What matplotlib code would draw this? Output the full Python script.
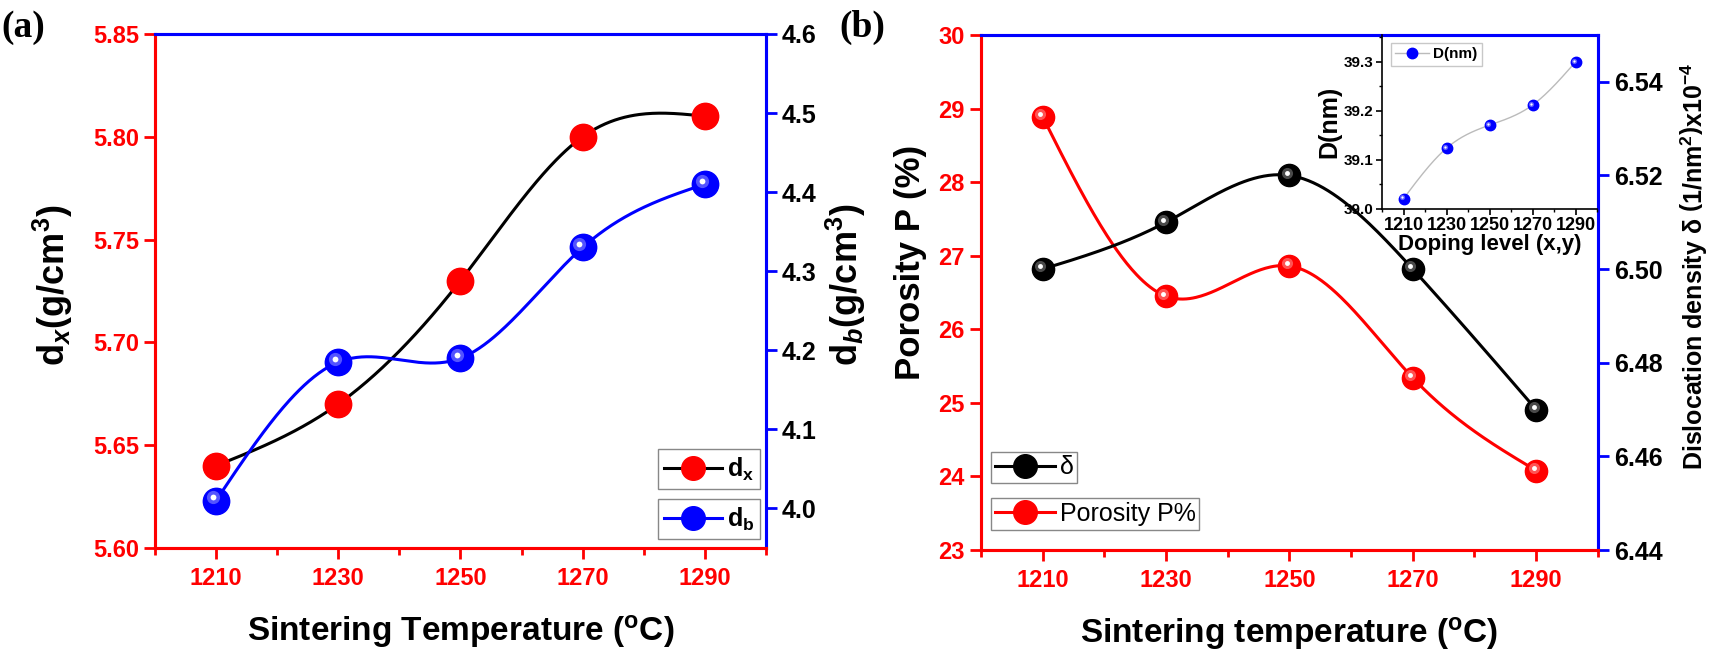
import numpy as np
import matplotlib
matplotlib.use("Agg")
import matplotlib.pyplot as plt
from matplotlib.transforms import offset_copy
from matplotlib.ticker import MultipleLocator

plt.rcParams["font.family"] = ["Liberation Sans", "DejaVu Sans"]
plt.rcParams["font.weight"] = "bold"
plt.rcParams["axes.labelweight"] = "bold"
plt.rcParams["mathtext.fontset"] = "custom"
plt.rcParams["mathtext.rm"] = "Liberation Sans:bold"
plt.rcParams["mathtext.bf"] = "Liberation Sans:bold"
plt.rcParams["mathtext.it"] = "Liberation Sans:italic:bold"
plt.rcParams["mathtext.default"] = "bf"

# data
temps = [1210, 1230, 1250, 1270, 1290]
dx = [5.64, 5.67, 5.73, 5.80, 5.81]
db = [4.01, 4.185, 4.19, 4.33, 4.41]
porosity = [28.89, 26.45, 26.86, 25.34, 24.08]
delta = [6.50, 6.51, 6.52, 6.50, 6.47]
grain = [39.021, 39.124, 39.171, 39.212, 39.30]

RED = "#ff0000"
BLUE = "#0000ff"
W, H = 1720, 655


def spline(x, y, n=300):
    # natural cubic spline through the points
    x = np.asarray(x, float)
    y = np.asarray(y, float)
    k = len(x)
    h = np.diff(x)
    A = np.zeros((k, k))
    r = np.zeros(k)
    A[0, 0] = 1
    A[-1, -1] = 1
    for i in range(1, k - 1):
        A[i, i - 1] = h[i - 1]
        A[i, i] = 2 * (h[i - 1] + h[i])
        A[i, i + 1] = h[i]
        r[i] = 6 * ((y[i + 1] - y[i]) / h[i] - (y[i] - y[i - 1]) / h[i - 1])
    M = np.linalg.solve(A, r)
    xs = np.linspace(x[0], x[-1], n)
    j = np.clip(np.searchsorted(x, xs) - 1, 0, k - 2)
    t0 = x[j + 1] - xs
    t1 = xs - x[j]
    hj = h[j]
    ys = (M[j] * t0**3 + M[j + 1] * t1**3) / (6 * hj) \
        + (y[j] / hj - M[j] * hj / 6) * t0 + (y[j + 1] / hj - M[j + 1] * hj / 6) * t1
    return xs, ys


def balls(ax, x, y, color, light, size, shade=True):
    ax.plot(x, y, "o", ms=size, mfc=color, mec=color, zorder=4)
    if shade:
        tr = offset_copy(ax.transData, fig=fig, x=-size * 0.12, y=size * 0.12, units="points")
        ax.plot(x, y, "o", ms=size * 0.5, mfc=light, mec="none", alpha=0.55,
                transform=tr, zorder=5)
        ax.plot(x, y, "o", ms=size * 0.22, mfc="white", mec="none",
                transform=tr, zorder=6)


def style_spines(ax):
    ax.spines["left"].set_color(RED)
    ax.spines["bottom"].set_color(RED)
    ax.spines["top"].set_color(BLUE)
    ax.spines["right"].set_color(BLUE)
    for s in ax.spines.values():
        s.set_linewidth(2.2)


def ptext(x, y, s, **kw):
    # text placed by pixel centre
    fig.text(x / W, 1 - y / H, s, ha="center", va="center", **kw)


fig = plt.figure(figsize=(17.2, 6.55), dpi=100)

# ---------------- panel (a)
axa = fig.add_axes([0.0901, 0.1634, 0.3552, 0.7847])
axa2 = axa.twinx()
for ax in (axa, axa2):
    style_spines(ax)

xs, ys = spline(temps, dx)
axa.plot(xs, ys, color="black", lw=2.2, zorder=3)
balls(axa, temps, dx, RED, RED, 19, shade=False)

xs, ys = spline(temps, db)
axa2.plot(xs, ys, color=BLUE, lw=2.2, zorder=3)
balls(axa2, temps, db, BLUE, "#9999ff", 19)

axa.set_xlim(1200, 1300)
axa.set_ylim(5.60, 5.85)
axa2.set_ylim(3.95, 4.6)
axa.set_xticks(temps)
axa.xaxis.set_minor_locator(MultipleLocator(20))
yt = np.arange(5.60, 5.851, 0.05)
axa.set_yticks(yt)
axa.set_yticklabels([f"{v:.2f}" for v in yt])
yt2 = np.arange(4.0, 4.61, 0.1)
axa2.set_yticks(yt2)
axa2.set_yticklabels([f"{v:.1f}" for v in yt2])

axa.tick_params(axis="x", which="major", direction="out", length=8, width=2,
                colors=RED, labelsize=17, pad=6)
axa.tick_params(axis="x", which="minor", direction="out", length=5, width=2, colors=RED)
axa.tick_params(axis="y", direction="out", length=8, width=2, colors=RED, labelsize=17)
axa2.tick_params(axis="y", direction="out", length=8, width=2, color=BLUE,
                 labelcolor="black", labelsize=18)

axa.set_xlabel("Sintering Temperature ($^o$C)", fontsize=24, labelpad=16)
ptext(53, 285, r"d$_{\mathit{x}}$(g/cm$^3$)", fontsize=26, rotation=90)
ptext(846, 285, r"d$_{\mathit{b}}$(g/cm$^3$)", fontsize=26, rotation=90)

legkw = dict(frameon=True, fancybox=False, edgecolor="#888888", framealpha=1,
             borderaxespad=0, handlelength=2.3, handletextpad=0.2, borderpad=0.25,
             loc="lower left")
hl_line = axa.plot([], [], "-o", color="black", lw=2.2, ms=17, mfc=RED, mec=RED)[0]
leg1 = axa2.legend([hl_line], ["d$_x$"], bbox_to_anchor=(0.823, 0.115),
                   fontsize=18, **legkw)
axa2.add_artist(leg1)
hb_line = axa.plot([], [], "-o", color=BLUE, lw=2.2, ms=17, mfc=BLUE, mec=BLUE)[0]
axa2.legend([hb_line], ["d$_b$"], bbox_to_anchor=(0.823, 0.0175),
            fontsize=18, **legkw)

fig.text(0.001, 0.985, "(a)", fontsize=27, family="Liberation Serif", weight="bold",
         va="top", ha="left")

# ---------------- panel (b)
axb = fig.add_axes([0.5703, 0.1603, 0.3587, 0.7863])
axb2 = axb.twinx()
for ax in (axb, axb2):
    style_spines(ax)

xs, ys = spline(temps, porosity)
axb.plot(xs, ys, color=RED, lw=2.2, zorder=3)
balls(axb, temps, porosity, RED, "#ff9999", 16)

xs, ys = spline(temps, delta)
axb2.plot(xs, ys, color="black", lw=2.2, zorder=3)
balls(axb2, temps, delta, "black", "#888888", 16)

axb.set_xlim(1200, 1300)
axb.set_ylim(23, 30)
axb2.set_ylim(6.44, 6.55)
axb.set_xticks(temps)
axb.xaxis.set_minor_locator(MultipleLocator(20))
axb.set_yticks(range(23, 31))
yt3 = np.arange(6.44, 6.541, 0.02)
axb2.set_yticks(yt3)
axb2.set_yticklabels([f"{v:.2f}" for v in yt3])

axb.tick_params(axis="x", which="major", direction="out", length=8, width=2,
                colors=RED, labelsize=17, pad=6)
axb.tick_params(axis="x", which="minor", direction="out", length=5, width=2, colors=RED)
axb.tick_params(axis="y", direction="out", length=8, width=2, colors=RED, labelsize=17)
axb2.tick_params(axis="y", direction="out", length=8, width=2, color=BLUE,
                 labelcolor="black", labelsize=18)

axb.set_xlabel("Sintering temperature ($^o$C)", fontsize=24, labelpad=16)
ptext(910, 262, "Porosity P (%)", fontsize=25, rotation=90)
ptext(1694, 266, r"Dislocation density δ $\left(1/nm^2\right)$x10$^{-4}$",
      fontsize=18, rotation=90)

legkw2 = dict(legkw, prop={"weight": "normal", "size": 18}, borderpad=0.15,
              handlelength=2.4)
hd_line = axb.plot([], [], "-o", color="black", lw=2.2, ms=17, mfc="black", mec="black")[0]
leg3 = axb2.legend([hd_line], ["δ"], bbox_to_anchor=(0.016, 0.13), **legkw2)
axb2.add_artist(leg3)
hp_line = axb.plot([], [], "-o", color=RED, lw=2.2, ms=17, mfc=RED, mec=RED)[0]
axb2.legend([hp_line], ["Porosity P%"], bbox_to_anchor=(0.016, 0.039), **legkw2)

fig.text(0.488, 0.985, "(b)", fontsize=27, family="Liberation Serif", weight="bold",
         va="top", ha="left")

# ---------------- inset
axi = fig.add_axes([0.8035, 0.681, 0.125, 0.2656])
axi.patch.set_alpha(0)
for side in ("top", "right"):
    axi.spines[side].set_visible(False)
for side in ("left", "bottom"):
    axi.spines[side].set_linewidth(1.2)
xs, ys = spline(temps, grain)
axi.plot(xs, ys, color="#bbbbbb", lw=1, zorder=3)
balls(axi, temps, grain, BLUE, "#aaaaff", 7.5)
axi.set_xlim(1200, 1300)
axi.set_ylim(39.0, 39.355)
axi.set_xticks(temps)
axi.xaxis.set_minor_locator(MultipleLocator(20))
axi.set_yticks([39.0, 39.1, 39.2, 39.3])
axi.set_yticklabels(["39.0", "39.1", "39.2", "39.3"])
axi.yaxis.set_minor_locator(MultipleLocator(0.05))
axi.tick_params(axis="x", which="major", length=4, width=1.2, labelsize=13, pad=2)
axi.tick_params(axis="y", which="major", length=4, width=1.2, labelsize=11, pad=2)
axi.tick_params(which="minor", length=2.5, width=1)
axi.set_xlabel("Doping level (x,y)", fontsize=16, labelpad=0)
axi.set_ylabel("D(nm)", fontsize=18, labelpad=2)
hg_line = axi.plot([], [], "-o", color="#bbbbbb", lw=1, ms=7.5, mfc=BLUE, mec=BLUE)[0]
axi.legend([hg_line], ["D(nm)"], loc="upper left", bbox_to_anchor=(0.04, 0.955),
           fontsize=11, frameon=True, fancybox=False, edgecolor="#bbbbbb",
           borderaxespad=0, handlelength=2.2, handletextpad=0.3, borderpad=0.3)

fig.savefig("out.png", dpi=100)
